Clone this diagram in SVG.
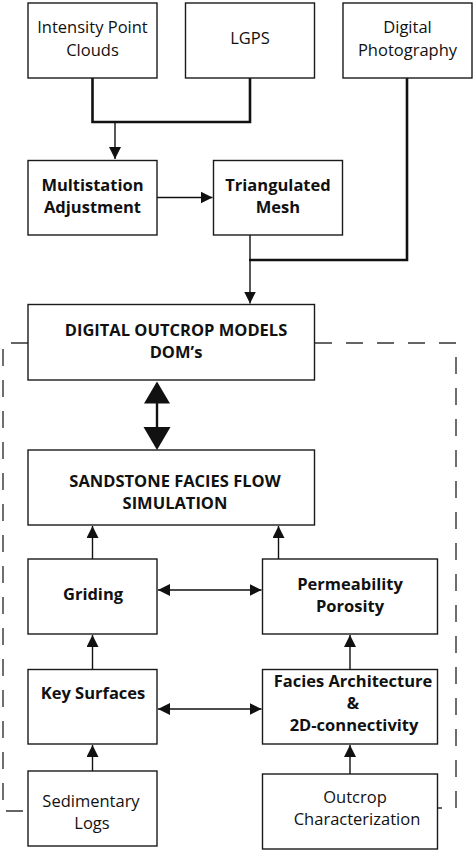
<svg xmlns="http://www.w3.org/2000/svg" width="474" height="851" viewBox="0 0 474 851">
<style>
.box{fill:#fff;stroke:#1a1a1a;stroke-width:1.4}
.t{font-family:"Open Sans","Liberation Sans",sans-serif;font-size:16.5px;fill:#111;text-anchor:middle}
.b{font-weight:700}
.thin{fill:none;stroke:#111;stroke-width:1.4}
.thick{fill:none;stroke:#111;stroke-width:2.6}
.dash{fill:none;stroke:#333;stroke-width:1.4;stroke-dasharray:17 14}
</style>
<defs>
<marker id="ah" viewBox="0 0 12 12" refX="12" refY="6" markerWidth="12" markerHeight="12" markerUnits="userSpaceOnUse" orient="auto-start-reverse">
<path d="M0,0 L12,6 L0,12 z" fill="#111"/>
</marker>
</defs>
<rect width="474" height="851" fill="#fff"/>
<g id="boundary">
<path class="dash" d="M28,343 H3 V811 H28"/>
<path class="dash" d="M315,343 H456 V808 H437"/>
</g>
<g id="connectors">
<path class="thick" d="M92.5,78 V122 H250 V78"/>
<path class="thin" d="M115,122 V159" marker-end="url(#ah)"/>
<path class="thin" d="M157,197.5 H212.5" marker-end="url(#ah)"/>
<path class="thin" d="M250,235 V260"/>
<path class="thick" d="M407,78 V260 H249"/>
<path class="thin" d="M250,260 V303.5" marker-end="url(#ah)"/>
<g id="bigarrow">
<line x1="157" y1="400" x2="157" y2="430" stroke="#111" stroke-width="2.4"/>
<polygon points="157,381.5 170,403.5 144,403.5" fill="#111"/>
<polygon points="157,450 170.5,427 143.5,427" fill="#111"/>
</g>
<path class="thin" d="M92.5,559 V526" marker-end="url(#ah)"/>
<path class="thin" d="M278.5,559 V526" marker-end="url(#ah)"/>
<path class="thin" d="M158,590 H261.5" marker-start="url(#ah)" marker-end="url(#ah)"/>
<path class="thin" d="M92.5,669 V635" marker-end="url(#ah)"/>
<path class="thin" d="M350,669 V635" marker-end="url(#ah)"/>
<path class="thin" d="M158,709 H261.5" marker-start="url(#ah)" marker-end="url(#ah)"/>
<path class="thin" d="M92.5,771 V745" marker-end="url(#ah)"/>
<path class="thin" d="M350,774 V745" marker-end="url(#ah)"/>
</g>
<g id="n-ipc"><rect class="box" x="28" y="3" width="129" height="75"/>
<text class="t" x="92.5" y="33">Intensity Point</text><text class="t" x="92.5" y="56">Clouds</text></g>
<g id="n-lgps"><rect class="box" x="185.5" y="3" width="129" height="75"/>
<text class="t" x="250" y="43.5">LGPS</text></g>
<g id="n-dp"><rect class="box" x="343" y="3" width="129" height="75"/>
<text class="t" x="407.5" y="33">Digital</text><text class="t" x="407.5" y="56">Photography</text></g>
<g id="n-multi"><rect class="box" x="28" y="160.5" width="129" height="74.5"/>
<text class="t b" x="92.5" y="191">Multistation</text><text class="t b" x="92.5" y="213">Adjustment</text></g>
<g id="n-mesh"><rect class="box" x="213.5" y="160.5" width="129" height="74.5"/>
<text class="t b" x="278" y="191">Triangulated</text><text class="t b" x="278" y="213">Mesh</text></g>
<g id="n-dom"><rect class="box" x="28" y="304.5" width="286.5" height="75.5"/>
<text class="t b" x="176" y="336">DIGITAL OUTCROP MODELS</text><text class="t b" x="176" y="358">DOM’s</text></g>
<g id="n-sand"><rect class="box" x="28" y="450" width="286.5" height="75"/>
<text class="t b" x="175" y="486.5">SANDSTONE FACIES FLOW</text><text class="t b" x="175" y="508.5">SIMULATION</text></g>
<g id="n-grid"><rect class="box" x="28" y="559" width="129" height="75"/>
<text class="t b" x="93" y="599.5">Griding</text></g>
<g id="n-perm"><rect class="box" x="262.5" y="559" width="175" height="75"/>
<text class="t b" x="350" y="590">Permeability</text><text class="t b" x="350" y="612">Porosity</text></g>
<g id="n-key"><rect class="box" x="28" y="669.5" width="129" height="74.5"/>
<text class="t b" x="93" y="698.5">Key Surfaces</text></g>
<g id="n-facies"><rect class="box" x="262.5" y="669.5" width="175" height="74.5"/>
<text class="t b" x="353" y="686.5">Facies Architecture</text><text class="t b" x="353" y="708.5">&amp;</text><text class="t b" x="354" y="730.5">2D-connectivity</text></g>
<g id="n-sed"><rect class="box" x="28" y="771" width="129" height="75"/>
<text class="t" x="91" y="806.5">Sedimentary</text><text class="t" x="92" y="828.5">Logs</text></g>
<g id="n-outcrop"><rect class="box" x="262.5" y="774" width="175" height="75"/>
<text class="t" x="355" y="803">Outcrop</text><text class="t" x="357" y="824.5">Characterization</text></g>
</svg>
